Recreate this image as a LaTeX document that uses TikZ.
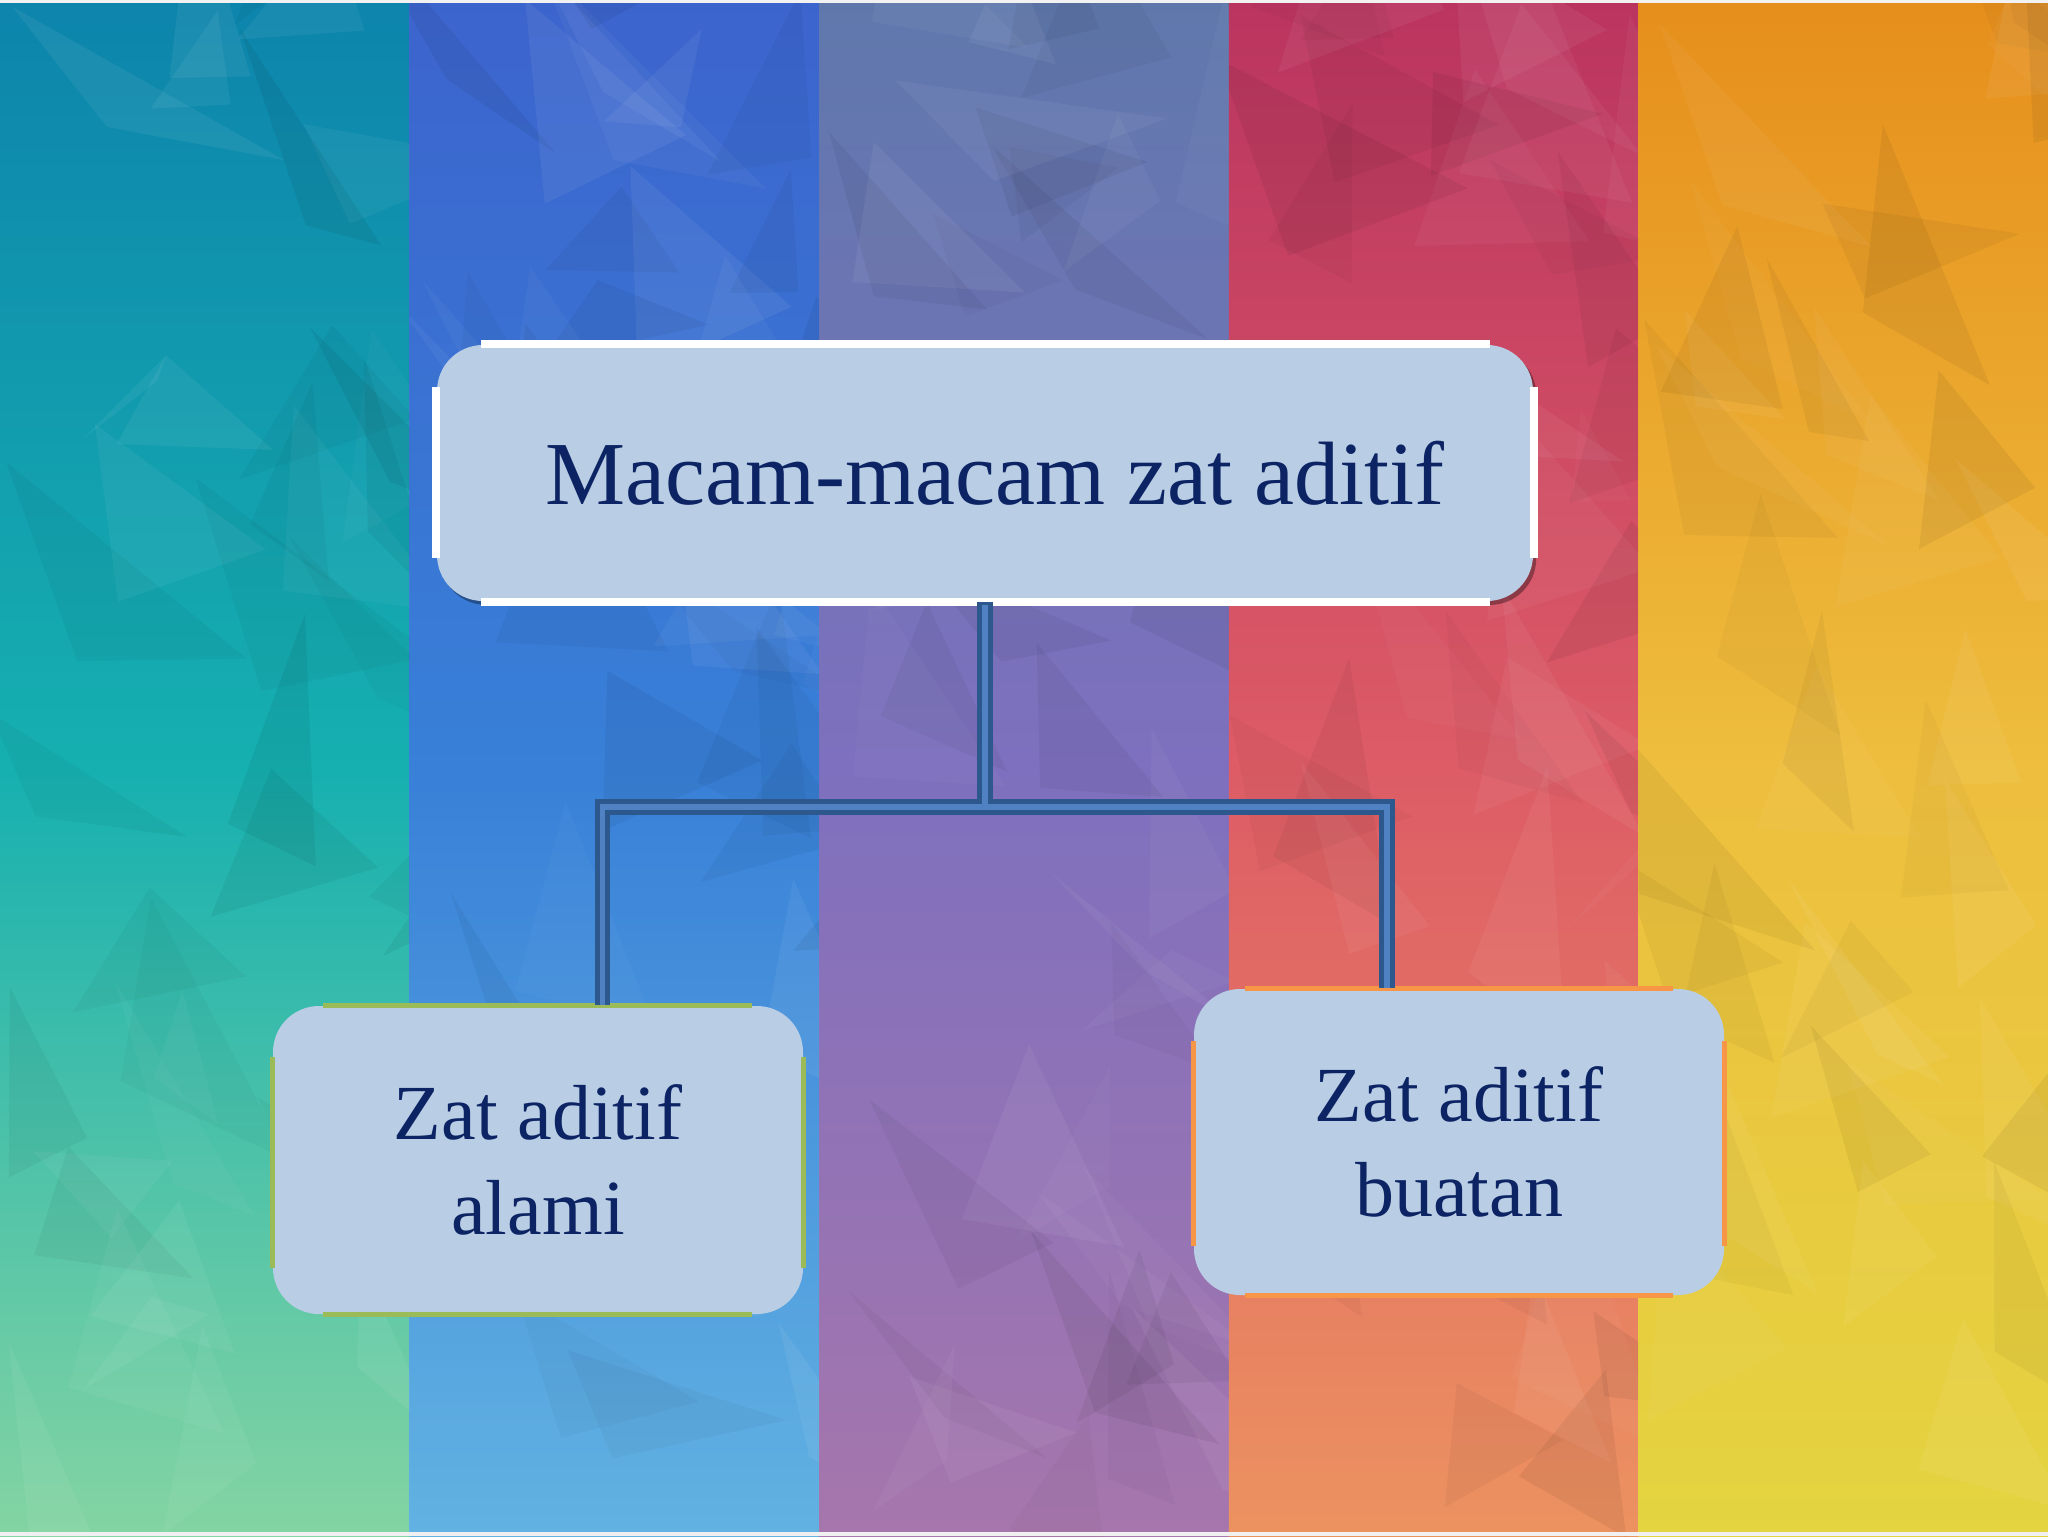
\documentclass[tikz,border=0pt]{standalone}
\usepackage{fontspec}
\setmainfont{Liberation Serif}
\usetikzlibrary{calc,shadows}
\definecolor{navy}{RGB}{12,36,100}
\definecolor{boxfill}{RGB}{185,205,228}
\definecolor{conndark}{RGB}{45,88,142}
\definecolor{connlight}{RGB}{80,130,195}
\definecolor{greenbar}{RGB}{155,187,89}
\definecolor{orangebar}{RGB}{247,150,70}
% stripe colours: top / middle / bottom
\definecolor{s0t}{RGB}{13,132,172}\definecolor{s0m}{RGB}{22,176,176}\definecolor{s0b}{RGB}{132,212,162}
\definecolor{s1t}{RGB}{60,100,205}\definecolor{s1m}{RGB}{56,128,216}\definecolor{s1b}{RGB}{98,178,226}
\definecolor{s2t}{RGB}{95,120,172}\definecolor{s2m}{RGB}{126,112,190}\definecolor{s2b}{RGB}{166,118,172}
\definecolor{s3t}{RGB}{186,52,96}\definecolor{s3m}{RGB}{221,92,102}\definecolor{s3b}{RGB}{236,146,96}
\definecolor{s4t}{RGB}{230,142,28}\definecolor{s4m}{RGB}{238,190,62}\definecolor{s4b}{RGB}{228,212,64}
\tikzset{
  rounded rectangle box/.style={rectangle, rounded corners=4.6mm, fill=boxfill, inner sep=0pt, text=navy, align=center},
  topfont/.style={font=\fontsize{25.6}{30}\selectfont},
  subfont/.style={font=\fontsize{22.2}{27}\selectfont},
  connouter/.style={draw=conndark, line width=4.4pt, miter limit=10},
  conninner/.style={draw=connlight, line width=1.6pt, miter limit=10},
  whitebar/.style={draw=white, line width=2.3pt},
  greenline/.style={draw=greenbar, line width=1.5pt},
  orangeline/.style={draw=orangebar, line width=1.5pt}
}
\begin{document}
\begin{tikzpicture}[x=0.1mm,y=-0.1mm]
\useasboundingbox (0,0) rectangle (2048,1536);
% background stripes
\foreach \i/\ct/\cm/\cb in {0/s0t/s0m/s0b,1/s1t/s1m/s1b,2/s2t/s2m/s2b,3/s3t/s3m/s3b,4/s4t/s4m/s4b}{
  \shade[top color=\ct, bottom color=\cm] ({\i*409.6},0) rectangle ({(\i+1)*409.6+0.5},768.5);
  \shade[top color=\cm, bottom color=\cb] ({\i*409.6},768) rectangle ({(\i+1)*409.6+0.5},1536);
}
% low-poly texture
\pgfmathsetseed{17}
\foreach \i in {0,...,4}{
  \begin{scope}
    \clip ({\i*409.6},0) rectangle ({(\i+1)*409.6},1536);
    \foreach \k in {1,...,40}{
      \pgfmathsetmacro{\px}{\i*409.6+rnd*409.6}
      \pgfmathsetmacro{\py}{rnd*1536}
      \pgfmathsetmacro{\ax}{\px+(rnd-0.5)*200}
      \pgfmathsetmacro{\ay}{\py-80-rnd*140}
      \pgfmathsetmacro{\bx}{\px+60+rnd*120}
      \pgfmathsetmacro{\by}{\py+(rnd-0.5)*160}
      \pgfmathsetmacro{\op}{0.025+0.035*rnd}
      \ifodd\k
        \fill[white, opacity=\op] (\px,\py) -- (\ax,\ay) -- (\bx,\by) -- cycle;
      \else
        \fill[black, opacity=\op] (\px,\py) -- (\ax,\ay) -- (\bx,\by) -- cycle;
      \fi
    }
  \end{scope}
}
% thin light edges
\fill[white!90!gray] (0,0) rectangle (2048,3);
\fill[white!88!gray] (0,1532) rectangle (2048,1536);

% boxes
\node[rounded rectangle box, topfont, minimum width=109.6mm, minimum height=25.6mm,
      drop shadow={shadow xshift=0.9pt, shadow yshift=-1.1pt, opacity=0.35, fill=black}]
      (top) at (985,473) {\hspace*{2mm}Macam-macam zat aditif};
\node[rounded rectangle box, subfont, minimum width=53mm, minimum height=30.8mm]
      (left) at (538,1160) {Zat aditif\\alami};
\node[rounded rectangle box, subfont, minimum width=53mm, minimum height=30.6mm]
      (right) at (1459,1142) {Zat aditif\\buatan};

% border bars on straight edges
\draw[whitebar] ($(top.north west)+(45,0)$) -- ($(top.north east)+(-44,0)$);
\draw[whitebar] ($(top.south west)+(45,0)$) -- ($(top.south east)+(-44,0)$);
\draw[whitebar] ($(top.north west)+(0,43)$) -- ($(top.south west)+(0,-44)$);
\draw[whitebar] ($(top.north east)+(0,43)$) -- ($(top.south east)+(0,-44)$);

\draw[greenline] ($(left.north west)+(51,0)$) -- ($(left.north east)+(-52,0)$);
\draw[greenline] ($(left.south west)+(51,0)$) -- ($(left.south east)+(-52,0)$);
\draw[greenline] ($(left.north west)+(0,52)$) -- ($(left.south west)+(0,-47)$);
\draw[greenline] ($(left.north east)+(0,52)$) -- ($(left.south east)+(0,-47)$);

\draw[orangeline] ($(right.north west)+(52,0)$) -- ($(right.north east)+(-52,0)$);
\draw[orangeline] ($(right.south west)+(52,0)$) -- ($(right.south east)+(-52,0)$);
\draw[orangeline] ($(right.north west)+(0,53)$) -- ($(right.south west)+(0,-50)$);
\draw[orangeline] ($(right.north east)+(0,53)$) -- ($(right.south east)+(0,-50)$);

% connectors (elbow)
\coordinate (j) at (top.south |- 0,807);
\coordinate (lc) at (602.5,807);
\coordinate (rc) at (1387,807);
\draw[connouter] (top.south) -- (j);
\draw[connouter] (j) -- (lc) -- (lc |- left.north);
\draw[connouter] (j) -- (rc) -- (rc |- right.north);
\draw[conninner] ([yshift=-1pt]top.south) -- (j);
\draw[conninner] (j) -- (lc) -- (lc |- left.north);
\draw[conninner] (j) -- (rc) -- (rc |- right.north);
\end{tikzpicture}
\end{document}
